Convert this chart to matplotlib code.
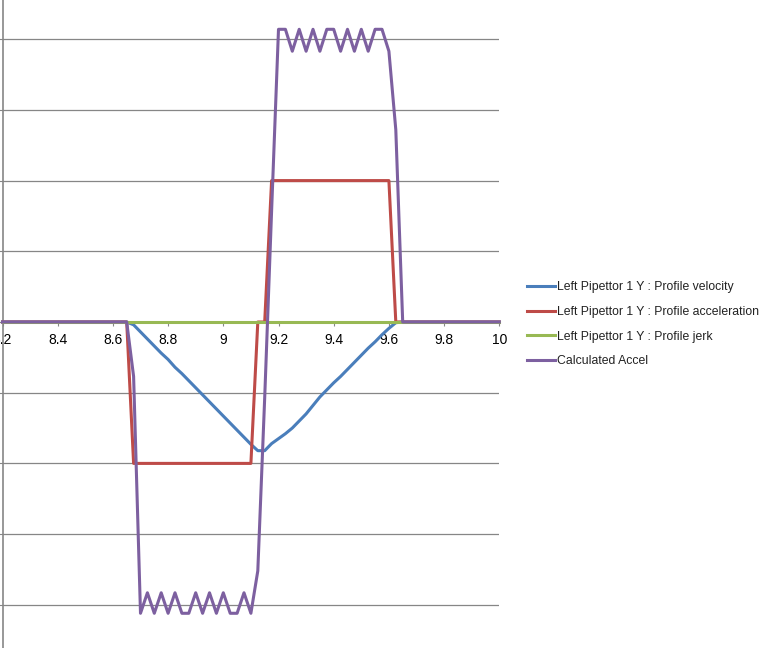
import matplotlib
matplotlib.use("Agg")
import matplotlib.pyplot as plt

# sample times (s)
time = [8.2, 8.65, 8.675, 8.7, 8.725, 8.75, 8.775, 8.8, 8.825, 8.85, 8.875,
        8.9, 8.925, 8.95, 8.975, 9.0, 9.025, 9.05, 9.075, 9.1, 9.125, 9.15,
        9.175, 9.2, 9.225, 9.25, 9.275, 9.3, 9.325, 9.35, 9.375, 9.4, 9.425,
        9.45, 9.475, 9.5, 9.525, 9.55, 9.575, 9.6, 9.625, 9.65, 10.0]

velocity = [0, 0, -0.04, -0.14, -0.24, -0.34, -0.44, -0.53, -0.64, -0.73, -0.83,
            -0.93, -1.03, -1.13, -1.23, -1.33, -1.43, -1.53, -1.63, -1.73, -1.82, -1.82,
            -1.72, -1.65, -1.58, -1.50, -1.40, -1.30, -1.18, -1.06, -0.96, -0.86, -0.77,
            -0.67, -0.57, -0.47, -0.37, -0.28, -0.18, -0.09, -0.01, 0, 0]

acceleration = [0, 0, -2, -2, -2, -2, -2, -2, -2, -2, -2,
                -2, -2, -2, -2, -2, -2, -2, -2, -2, 0, 0,
                2, 2, 2, 2, 2, 2, 2, 2, 2, 2, 2,
                2, 2, 2, 2, 2, 2, 2, 0, 0, 0]

jerk = [0] * len(time)

calc_accel = [0, 0, -0.77, -4.12, -3.83, -4.12, -3.83, -4.12, -3.83, -4.12, -4.12,
              -3.83, -4.12, -3.83, -4.12, -3.83, -4.12, -4.12, -3.83, -4.12, -3.52, -1.07,
              1.57, 4.14, 4.14, 3.83, 4.14, 3.83, 4.14, 3.83, 4.14, 4.14, 3.83,
              4.14, 3.83, 4.14, 3.83, 4.14, 4.14, 3.83, 2.72, 0, 0]

series_names = ["Left Pipettor 1 Y : Profile velocity",
                "Left Pipettor 1 Y : Profile acceleration",
                "Left Pipettor 1 Y : Profile jerk",
                "Calculated Accel"]
series_colors = ["#4A7EBB", "#BE4B48", "#98B954", "#7D60A0"]

x_ticks = [8.2, 8.4, 8.6, 8.8, 9.0, 9.2, 9.4, 9.6, 9.8, 10.0]
x_tick_labels = ["8.2", "8.4", "8.6", "8.8", "9", "9.2", "9.4", "9.6", "9.8", "10"]
y_grid = [-4, -3, -2, -1, 0, 1, 2, 3, 4]

plt.rcParams['font.family'] = ['Liberation Sans', 'DejaVu Sans']

W, H = 768, 648
fig = plt.figure(figsize=(W / 100, H / 100), dpi=100)
left_px, right_px = 2.5, 499.3
ax = fig.add_axes([left_px / W, 0, (right_px - left_px) / W, 1])

grid_col = "#868686"
ax.set_xlim(8.2, 10.0)
ax.set_ylim(-326 / 70.7, 322 / 70.7)

ax.set_yticks(y_grid)
ax.set_yticklabels([])
ax.yaxis.grid(True, color=grid_col, linewidth=0.9)
ax.set_axisbelow(True)
ax.tick_params(axis='y', length=3, color=grid_col)

ax.set_xticks(x_ticks)
ax.set_xticklabels(x_tick_labels, fontsize=8.3, color="#222222")
ax.tick_params(axis='x', direction='out', length=3, color=grid_col, pad=5)

ax.spines['bottom'].set_position(('data', 0))
ax.spines['bottom'].set_color(grid_col)
ax.spines['bottom'].set_zorder(1)
ax.spines['left'].set_color(grid_col)
ax.spines['left'].set_linewidth(1.2)
ax.spines['top'].set_visible(False)
ax.spines['right'].set_visible(False)

for ys, name, col in zip([velocity, acceleration, jerk, calc_accel], series_names, series_colors):
    ax.plot(time, ys, color=col, linewidth=2.2, label=name,
            solid_joinstyle='round', clip_on=False, zorder=3)

fig.legend(loc='upper left', bbox_to_anchor=(527 / W, 1 - 281 / H),
           frameon=False, fontsize=8.8, handlelength=2.3, handletextpad=0.15,
           labelspacing=1.05, borderaxespad=0, borderpad=0,
           labelcolor="#222222")

fig.savefig("out.png", dpi=100)
